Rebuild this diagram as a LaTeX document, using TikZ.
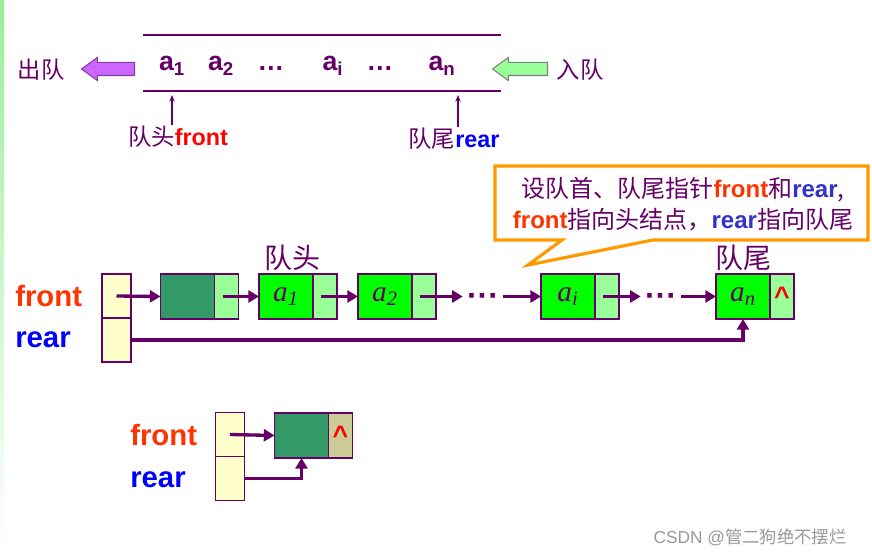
\documentclass[tikz,border=0pt]{standalone}
\usepackage{fontspec}
\setmainfont{Liberation Sans}
\newfontfamily\cjk{Noto Sans CJK SC}
\newfontfamily\tnr{Liberation Serif}
\usetikzlibrary{shapes.arrows, arrows.meta, positioning, calc}
\definecolor{qpurple}{HTML}{660066}
\definecolor{frontred}{HTML}{FF3300}
\definecolor{rearblue}{HTML}{0000FF}
\definecolor{noteblue}{HTML}{3333CC}
\definecolor{ptrfill}{HTML}{FFFFCC}
\definecolor{headfill}{HTML}{339966}
\definecolor{datafill}{HTML}{00FF00}
\definecolor{nextfill}{HTML}{99FF99}
\definecolor{nullfill}{HTML}{CCCC99}
\definecolor{outfill}{HTML}{CC66FF}
\definecolor{outdraw}{HTML}{7F3F9F}
\definecolor{indraw}{HTML}{808080}
\definecolor{notedraw}{HTML}{FF9900}
\definecolor{stripe}{HTML}{99EE99}
\tikzset{
  cell/.style={rectangle, draw=qpurple, line width=0.9pt, inner sep=0pt, outer sep=0pt, minimum height=33.75pt},
  ptrc/.style={cell, fill=ptrfill, minimum width=21.75pt, minimum height=33pt},
  hd/.style={cell, fill=headfill, minimum width=40.5pt},
  dat/.style={cell, fill=datafill, minimum width=40.5pt, font=\tnr\itshape\fontsize{22}{22}\selectfont, text=qpurple},
  nxt/.style={cell, fill=nextfill, minimum width=18pt, font=\bfseries\fontsize{20}{20}\selectfont, text=red},
  nul/.style={nxt, fill=nullfill},
  elem/.style={anchor=base, inner sep=0pt, font=\bfseries\fontsize{20}{20}\selectfont, text=qpurple},
  cn/.style={font=\cjk\fontsize{17.5}{17.5}\selectfont, text=qpurple, inner sep=1pt},
  cnbig/.style={font=\cjk\fontsize{21}{21}\selectfont, text=qpurple, inner sep=1pt},
  plab/.style={anchor=west, inner sep=0pt, font=\bfseries\fontsize{22}{22}\selectfont},
  blockarr/.style={single arrow, shape border rotate=180, inner xsep=0pt, inner ysep=4.5pt, single arrow head extend=3.75pt, single arrow tip angle=72, line width=0.8pt},
  qline/.style={draw=qpurple, line width=1pt},
  thinarr/.style={-{Stealth[length=5pt, width=4pt]}, draw=qpurple, line width=0.9pt},
  link/.style={-{Triangle[length=8pt, width=9pt]}, draw=qpurple, line width=2.5pt},
  dots/.style={font=\bfseries\fontsize{24}{24}\selectfont, text=qpurple, inner xsep=3pt, inner ysep=0pt},
}

\begin{document}
\begin{tikzpicture}[x=0.75pt, y=-0.75pt]
  \useasboundingbox (0,0) rectangle (872,555);
  \fill[white] (0,0) rectangle (872,555);
  \shade[top color=stripe, bottom color=white] (0,0) rectangle (4,555);

  % queue sketch
  \coordinate (tl) at (143,35);
  \coordinate (tr) at (501,35);
  \coordinate (bl) at (143,91);
  \coordinate (br) at (501,91);
  \draw[qline] (tl) -- (tr);
  \draw[qline] (bl) -- (br);
  \node[elem] (e1) at (172,71) {a\textsubscript{1}};
  \node[elem] (e2) at (221,71) {a\textsubscript{2}};
  \node[elem] (e3) at (271,71) {…};
  \node[elem] (ei) at (333,71) {a\textsubscript{i}};
  \node[elem] (e4) at (380,71) {…};
  \node[elem] (en) at (442,71) {a\textsubscript{n}};
  \node[blockarr, draw=outdraw, fill=outfill, minimum height=39.75pt] (deq) at (112.5,69) {};
  \node[blockarr, draw=indraw, fill=nextfill, minimum height=41.25pt] (enq) at (524.5,69) {};
  \node[cn] (deqlab) at (41,70) {出队};
  \node[cn] (enqlab) at (580,70) {入队};
  \node[cn] (flab) at (178,137) {队头{\fontspec{Liberation Sans}\bfseries\color{red}front}};
  \node[cn] (rlab) at (454,139) {队尾{\fontspec{Liberation Sans}\bfseries\color{rearblue}rear}};
  \coordinate (fa) at (172,95);
  \coordinate (ra) at (458,95);
  \draw[thinarr] (flab.north -| fa) -- (fa);
  \draw[thinarr] (rlab.north -| ra) -- (ra);

  % note
  \coordinate (tip) at (528,265);
  \draw[draw=notedraw, fill=white, line width=2.4pt, line join=miter]
    (495,166) -- (868,166) -- (868,240) -- (653,240) -- (tip) -- (562,240) -- (495,240) -- cycle;
  \node[cn, font=\cjk\fontsize{18}{23}\selectfont, align=center] (note) at (683,204)
    {设队首、队尾指针{\fontspec{Liberation Sans}\bfseries\color{frontred}front}和{\fontspec{Liberation Sans}\bfseries\color{noteblue}rear},\\
     {\fontspec{Liberation Sans}\bfseries\color{frontred}front}指向头结点，{\fontspec{Liberation Sans}\bfseries\color{noteblue}rear}指向队尾};

  % linked queue
  \node[ptrc] (fp) at (116.5,296) {};
  \node[ptrc, below=0pt of fp] (rp) {};
  \node[plab, text=frontred] (fl) at (15,296) {front};
  \node[plab, text=rearblue] (rl) at (15,340) {rear};
  \node[hd] (h) at (187.5,296.5) {};
  \node[nxt, right=0pt of h] (hn) {};
  \node[dat] (a1) at (286,296.5) {a\textsubscript{1}};
  \node[nxt, right=0pt of a1] (a1n) {};
  \node[dat] (a2) at (385,296.5) {a\textsubscript{2}};
  \node[nxt, right=0pt of a2] (a2n) {};
  \node[dots] (d1) at (483,300) {···};
  \node[dat] (ai) at (568,296.5) {a\textsubscript{i}};
  \node[nxt, right=0pt of ai] (ain) {};
  \node[dots] (d2) at (661,300) {···};
  \node[dat] (an) at (743,296.5) {a\textsubscript{n}};
  \node[nxt, right=0pt of an] (ann) {\textasciicircum};
  \node[cnbig, above=1pt of a1, xshift=5pt] (hlab) {队头};
  \node[cnbig, above=1pt of an] (tlab) {队尾};
  \draw[link] (fp.center) -- (h.west);
  \draw[link] ([xshift=-3pt]hn.center) -- (a1.west);
  \draw[link] ([xshift=-3pt]a1n.center) -- (a2.west);
  \draw[link] ([xshift=-3pt]a2n.center) -- (d1.west |- a2n.center);
  \draw[link] (d1.east |- ai.west) -- (ai.west);
  \draw[link] ([xshift=-3pt]ain.center) -- (d2.west |- ain.center);
  \draw[link] (d2.east |- an.west) -- (an.west);
  \draw[link] (rp.east) -| (an.south);

  % empty queue
  \node[ptrc] (fp2) at (230,434.5) {};
  \node[ptrc, below=0pt of fp2] (rp2) {};
  \node[plab, text=frontred] (fl2) at (130,435) {front};
  \node[plab, text=rearblue] (rl2) at (130,480) {rear};
  \node[hd] (h2) at (301.5,435.5) {};
  \node[nul, right=0pt of h2] (h2n) {\textasciicircum};
  \draw[link] (fp2.center) -- (h2.west);
  \draw[link] (rp2.east) -| (h2.south);

  \node[text=gray!80, font=\fontsize{13}{13}\selectfont, inner sep=0pt] (mark) at (750,537) {CSDN @{\cjk 管二狗绝不摆烂}};
\end{tikzpicture}
\end{document}
